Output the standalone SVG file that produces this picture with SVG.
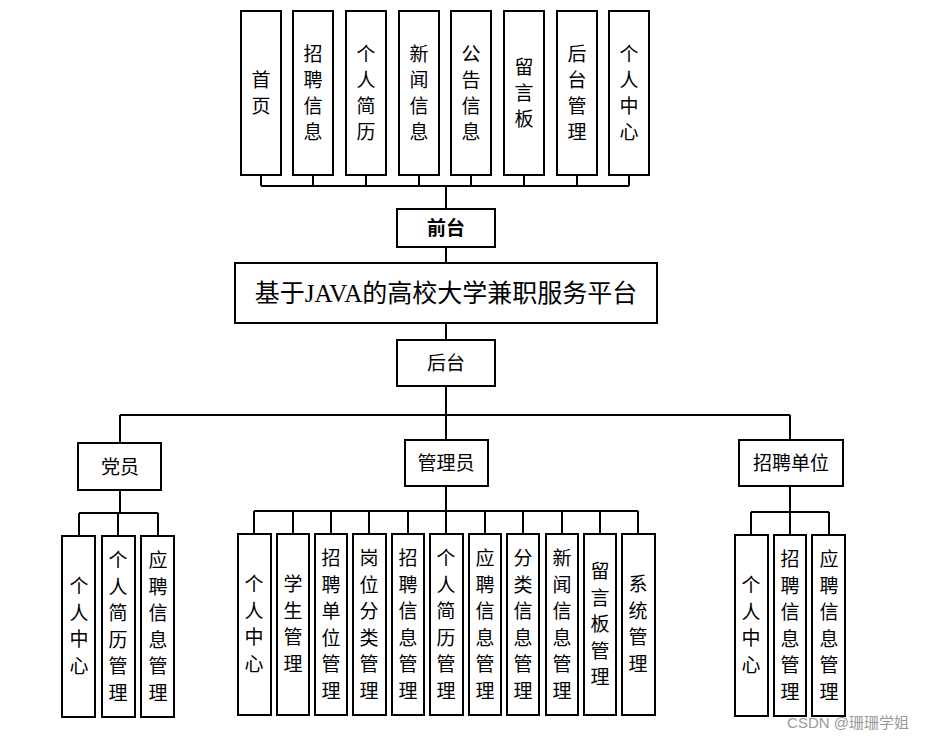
<svg xmlns="http://www.w3.org/2000/svg" width="932" height="740" viewBox="0 0 932 740">
<style>
rect{fill:#fff;stroke:#000;stroke-width:2}
text{font-family:"Liberation Serif","Noto Sans CJK SC",serif;font-size:19px;fill:#000;text-anchor:middle;dominant-baseline:central}
#connectors path{fill:none;stroke:#000;stroke-width:2}
</style>
<rect x="0" y="0" width="932" height="740" style="stroke:none"/>
<g id="connectors">
<path d="M261 175V186M313 175V186M366 175V186M419 175V186M471 175V186M524 175V186M577 175V186M629 175V186M261 186H629M446 186V209"/>
<path d="M446 247V263M446 323V340M446 386V415M120 415H790M120 415V443M446 415V440M790 415V440"/>
<path d="M120 490V513M79 513H158M79 513V536M118 513V536M158 513V536"/>
<path d="M446 486V511M254 511H638M254 511V534M293 511V534M331 511V534M369 511V534M408 511V534M446 511V534M485 511V534M523 511V534M562 511V534M600 511V534M638 511V534"/>
<path d="M790 486V512M751 512H829M751 512V535M790 512V535M829 512V535"/>
</g>
<g id="top">
<g id="n1"><rect x="241" y="11" width="40" height="164"/><text x="261" y="93"><tspan x="261" dy="-13">首</tspan><tspan x="261" dy="26">页</tspan></text></g>
<g id="n2"><rect x="293" y="11" width="40" height="164"/><text x="313" y="93"><tspan x="313" dy="-39">招</tspan><tspan x="313" dy="26">聘</tspan><tspan x="313" dy="26">信</tspan><tspan x="313" dy="26">息</tspan></text></g>
<g id="n3"><rect x="346" y="11" width="40" height="164"/><text x="366" y="93"><tspan x="366" dy="-39">个</tspan><tspan x="366" dy="26">人</tspan><tspan x="366" dy="26">简</tspan><tspan x="366" dy="26">历</tspan></text></g>
<g id="n4"><rect x="399" y="11" width="40" height="164"/><text x="419" y="93"><tspan x="419" dy="-39">新</tspan><tspan x="419" dy="26">闻</tspan><tspan x="419" dy="26">信</tspan><tspan x="419" dy="26">息</tspan></text></g>
<g id="n5"><rect x="451" y="11" width="40" height="164"/><text x="471" y="93"><tspan x="471" dy="-39">公</tspan><tspan x="471" dy="26">告</tspan><tspan x="471" dy="26">信</tspan><tspan x="471" dy="26">息</tspan></text></g>
<g id="n6"><rect x="504" y="11" width="40" height="164"/><text x="524" y="93"><tspan x="524" dy="-26">留</tspan><tspan x="524" dy="26">言</tspan><tspan x="524" dy="26">板</tspan></text></g>
<g id="n7"><rect x="557" y="11" width="40" height="164"/><text x="577" y="93"><tspan x="577" dy="-39">后</tspan><tspan x="577" dy="26">台</tspan><tspan x="577" dy="26">管</tspan><tspan x="577" dy="26">理</tspan></text></g>
<g id="n8"><rect x="609" y="11" width="40" height="164"/><text x="629" y="93"><tspan x="629" dy="-39">个</tspan><tspan x="629" dy="26">人</tspan><tspan x="629" dy="26">中</tspan><tspan x="629" dy="26">心</tspan></text></g>
</g>
<g id="qiantai"><rect x="397" y="209" width="98" height="38"/><text x="446" y="228" font-weight="bold">前台</text></g>
<g id="main"><rect x="235" y="263" width="422" height="60"/><text x="446" y="293" style="font-size:25px">基于JAVA的高校大学兼职服务平台</text></g>
<g id="houtai"><rect x="397" y="340" width="98" height="46"/><text x="446" y="363">后台</text></g>
<g id="dangyuan"><rect x="78" y="443" width="83" height="47"/><text x="120" y="467">党员</text></g>
<g id="admin"><rect x="405" y="440" width="83" height="46"/><text x="446" y="463">管理员</text></g>
<g id="company"><rect x="739" y="440" width="104" height="46"/><text x="791" y="463">招聘单位</text></g>
<g id="d1"><rect x="62" y="536" width="33" height="181"/><text x="79" y="626"><tspan x="79" dy="-40">个</tspan><tspan x="79" dy="26.5">人</tspan><tspan x="79" dy="26.5">中</tspan><tspan x="79" dy="26.5">心</tspan></text></g>
<g id="d2"><rect x="102" y="536" width="33" height="181"/><text x="118" y="626"><tspan x="118" dy="-66">个</tspan><tspan x="118" dy="26.5">人</tspan><tspan x="118" dy="26.5">简</tspan><tspan x="118" dy="26.5">历</tspan><tspan x="118" dy="26.5">管</tspan><tspan x="118" dy="26.5">理</tspan></text></g>
<g id="d3"><rect x="141" y="536" width="33" height="181"/><text x="158" y="626"><tspan x="158" dy="-66">应</tspan><tspan x="158" dy="26.5">聘</tspan><tspan x="158" dy="26.5">信</tspan><tspan x="158" dy="26.5">息</tspan><tspan x="158" dy="26.5">管</tspan><tspan x="158" dy="26.5">理</tspan></text></g>
<g id="a1"><rect x="238" y="534" width="33" height="181"/><text x="254" y="624"><tspan x="254" dy="-40">个</tspan><tspan x="254" dy="26.5">人</tspan><tspan x="254" dy="26.5">中</tspan><tspan x="254" dy="26.5">心</tspan></text></g>
<g id="a2"><rect x="277" y="534" width="32" height="181"/><text x="293" y="624"><tspan x="293" dy="-40">学</tspan><tspan x="293" dy="26.5">生</tspan><tspan x="293" dy="26.5">管</tspan><tspan x="293" dy="26.5">理</tspan></text></g>
<g id="a3"><rect x="315" y="534" width="32" height="181"/><text x="331" y="624"><tspan x="331" dy="-66">招</tspan><tspan x="331" dy="26.5">聘</tspan><tspan x="331" dy="26.5">单</tspan><tspan x="331" dy="26.5">位</tspan><tspan x="331" dy="26.5">管</tspan><tspan x="331" dy="26.5">理</tspan></text></g>
<g id="a4"><rect x="353" y="534" width="33" height="181"/><text x="369" y="624"><tspan x="369" dy="-66">岗</tspan><tspan x="369" dy="26.5">位</tspan><tspan x="369" dy="26.5">分</tspan><tspan x="369" dy="26.5">类</tspan><tspan x="369" dy="26.5">管</tspan><tspan x="369" dy="26.5">理</tspan></text></g>
<g id="a5"><rect x="392" y="534" width="32" height="181"/><text x="408" y="624"><tspan x="408" dy="-66">招</tspan><tspan x="408" dy="26.5">聘</tspan><tspan x="408" dy="26.5">信</tspan><tspan x="408" dy="26.5">息</tspan><tspan x="408" dy="26.5">管</tspan><tspan x="408" dy="26.5">理</tspan></text></g>
<g id="a6"><rect x="430" y="534" width="33" height="181"/><text x="446" y="624"><tspan x="446" dy="-66">个</tspan><tspan x="446" dy="26.5">人</tspan><tspan x="446" dy="26.5">简</tspan><tspan x="446" dy="26.5">历</tspan><tspan x="446" dy="26.5">管</tspan><tspan x="446" dy="26.5">理</tspan></text></g>
<g id="a7"><rect x="469" y="534" width="32" height="181"/><text x="485" y="624"><tspan x="485" dy="-66">应</tspan><tspan x="485" dy="26.5">聘</tspan><tspan x="485" dy="26.5">信</tspan><tspan x="485" dy="26.5">息</tspan><tspan x="485" dy="26.5">管</tspan><tspan x="485" dy="26.5">理</tspan></text></g>
<g id="a8"><rect x="507" y="534" width="32" height="181"/><text x="523" y="624"><tspan x="523" dy="-66">分</tspan><tspan x="523" dy="26.5">类</tspan><tspan x="523" dy="26.5">信</tspan><tspan x="523" dy="26.5">息</tspan><tspan x="523" dy="26.5">管</tspan><tspan x="523" dy="26.5">理</tspan></text></g>
<g id="a9"><rect x="546" y="534" width="32" height="181"/><text x="562" y="624"><tspan x="562" dy="-66">新</tspan><tspan x="562" dy="26.5">闻</tspan><tspan x="562" dy="26.5">信</tspan><tspan x="562" dy="26.5">息</tspan><tspan x="562" dy="26.5">管</tspan><tspan x="562" dy="26.5">理</tspan></text></g>
<g id="a10"><rect x="584" y="534" width="32" height="181"/><text x="600" y="624"><tspan x="600" dy="-53">留</tspan><tspan x="600" dy="26.5">言</tspan><tspan x="600" dy="26.5">板</tspan><tspan x="600" dy="26.5">管</tspan><tspan x="600" dy="26.5">理</tspan></text></g>
<g id="a11"><rect x="622" y="534" width="33" height="181"/><text x="638" y="624"><tspan x="638" dy="-40">系</tspan><tspan x="638" dy="26.5">统</tspan><tspan x="638" dy="26.5">管</tspan><tspan x="638" dy="26.5">理</tspan></text></g>
<g id="c1"><rect x="735" y="535" width="33" height="181"/><text x="751" y="625"><tspan x="751" dy="-40">个</tspan><tspan x="751" dy="26.5">人</tspan><tspan x="751" dy="26.5">中</tspan><tspan x="751" dy="26.5">心</tspan></text></g>
<g id="c2"><rect x="774" y="535" width="32" height="181"/><text x="790" y="625"><tspan x="790" dy="-66">招</tspan><tspan x="790" dy="26.5">聘</tspan><tspan x="790" dy="26.5">信</tspan><tspan x="790" dy="26.5">息</tspan><tspan x="790" dy="26.5">管</tspan><tspan x="790" dy="26.5">理</tspan></text></g>
<g id="c3"><rect x="812" y="535" width="33" height="181"/><text x="829" y="625"><tspan x="829" dy="-66">应</tspan><tspan x="829" dy="26.5">聘</tspan><tspan x="829" dy="26.5">信</tspan><tspan x="829" dy="26.5">息</tspan><tspan x="829" dy="26.5">管</tspan><tspan x="829" dy="26.5">理</tspan></text></g>
<text x="848" y="722" style="font-family:'Liberation Sans','Noto Sans CJK SC',sans-serif;font-size:15px;fill:#999">CSDN @珊珊学姐</text>
</svg>
